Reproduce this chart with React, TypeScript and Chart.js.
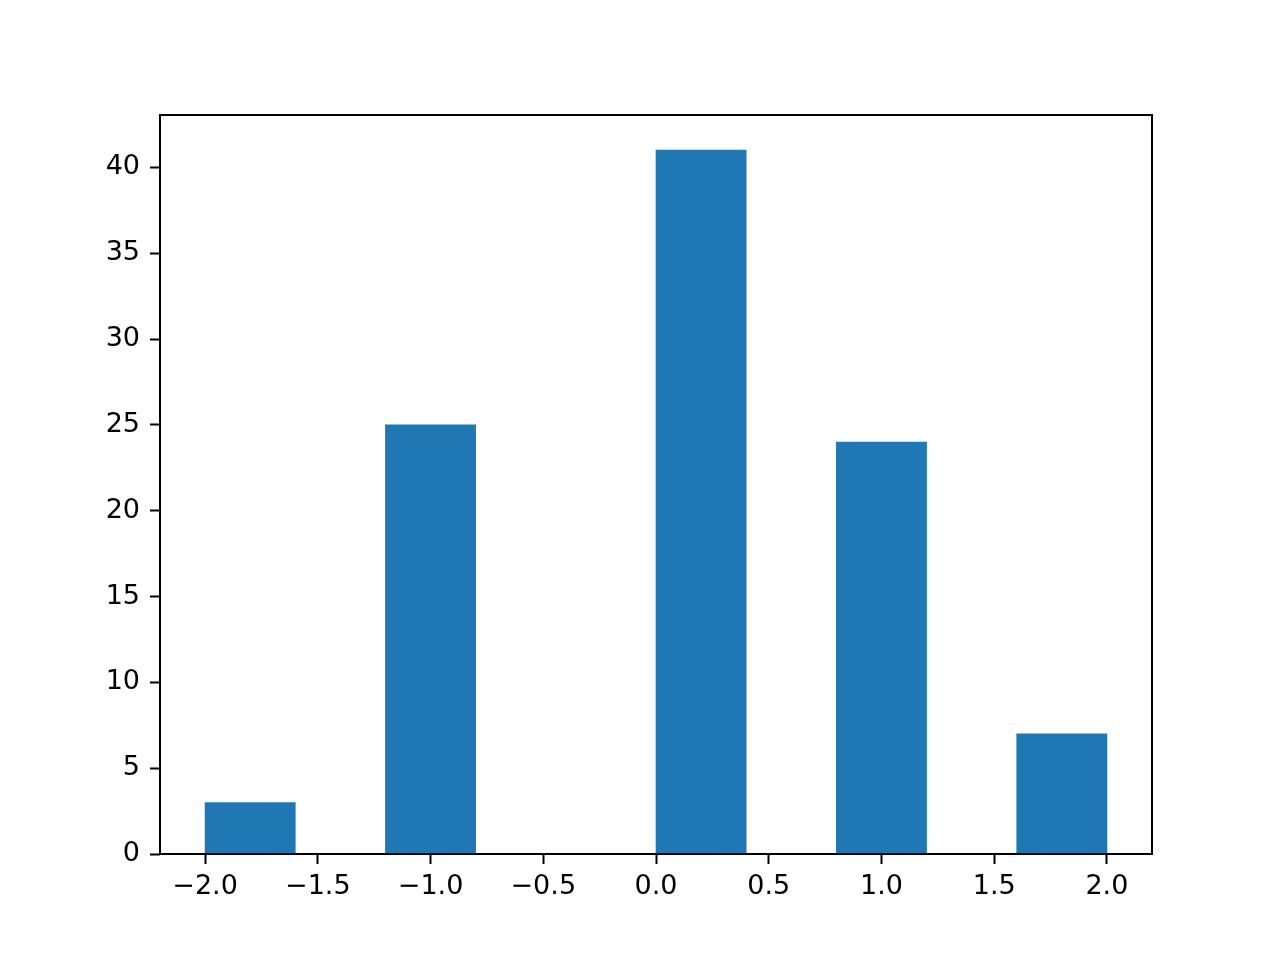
import React, { useEffect, useRef } from "react";
import { Chart, registerables } from "chart.js";

Chart.register(...registerables);

const binCenters = [-1.8, -1.4, -1.0, -0.6, -0.2, 0.2, 0.6, 1.0, 1.4, 1.8];
const counts = [3, 0, 25, 0, 0, 41, 0, 24, 0, 7];
const xTicks = [-2.0, -1.5, -1.0, -0.5, 0.0, 0.5, 1.0, 1.5, 2.0];
const yTicks = [0, 5, 10, 15, 20, 25, 30, 35, 40];

const fmtX = (v: number) => {
  const s = Math.abs(v).toFixed(1);
  return v < 0 ? "\u2212" + s : s;
};

const framePlugin = {
  id: "frame",
  afterDraw(chart: any) {
    const { ctx, chartArea } = chart;
    ctx.save();
    ctx.strokeStyle = "#000";
    ctx.lineWidth = 2;
    ctx.strokeRect(chartArea.left, chartArea.top, chartArea.right - chartArea.left, chartArea.bottom - chartArea.top);
    ctx.restore();
  },
};

export default function App() {
  const ref = useRef<HTMLCanvasElement>(null);
  useEffect(() => {
    document.body.style.margin = "0";
    const font = { family: "DejaVu Sans", size: 27 };
    const chart = new Chart(ref.current!, {
      type: "bar",
      data: {
        datasets: [
          {
            data: binCenters.map((x, i) => ({ x, y: counts[i] })),
            backgroundColor: "#1f77b4",
            barPercentage: 1,
            categoryPercentage: 1,
            borderWidth: 0,
          },
        ],
      },
      options: {
        animation: false,
        responsive: false,
        devicePixelRatio: 1,
        layout: { padding: { top: 115, right: 128, left: 0, bottom: 0 } },
        plugins: { legend: { display: false }, tooltip: { enabled: false } },
        scales: {
          x: {
            type: "linear",
            offset: false,
            min: -2.2,
            max: 2.2,
            afterBuildTicks: (s: any) => {
              s.ticks = xTicks.map((v) => ({ value: v }));
            },
            afterFit: (s: any) => {
              s.height = 106;
            },
            grid: { offset: false, drawOnChartArea: false, tickLength: 10, tickColor: "#000", tickWidth: 2 },
            border: { display: false },
            ticks: { color: "#000", font, padding: 7, maxRotation: 0, autoSkip: false, callback: (v: any) => fmtX(Number(v)) },
          },
          y: {
            type: "linear",
            min: 0,
            max: 43.05,
            afterBuildTicks: (s: any) => {
              s.ticks = yTicks.map((v) => ({ value: v }));
            },
            afterFit: (s: any) => {
              s.width = 160;
            },
            grid: { drawOnChartArea: false, tickLength: 10, tickColor: "#000", tickWidth: 2 },
            border: { display: false },
            ticks: { color: "#000", font, padding: 10, autoSkip: false, callback: (v: any) => String(v) },
          },
        },
      },
      plugins: [framePlugin],
    });
    return () => chart.destroy();
  }, []);
  return <canvas ref={ref} width={1280} height={960} style={{ display: "block" }} />;
}
